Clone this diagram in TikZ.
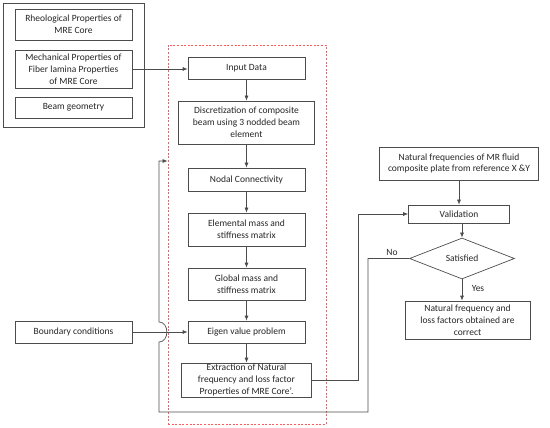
\documentclass[tikz,border=0pt]{standalone}
\usepackage{fontspec}
\setmainfont{Carlito}
\usetikzlibrary{arrows.meta,shapes.geometric}
\begin{document}
\begin{tikzpicture}[x=1pt,y=-1pt,
  box/.style={draw=black!70, line width=0.7pt, align=center, inner sep=0pt,
    font=\fontsize{9.5}{11.8}\selectfont, text=black!85},
  conn/.style={draw=black!70, line width=0.7pt},
  arr/.style={conn, -{Latex[length=5pt,width=4pt]}},
  lbl/.style={font=\fontsize{9.5}{11.8}\selectfont, text=black!85, inner sep=1pt}]
\useasboundingbox (0,0) rectangle (550,428);
% outer group box
\node[box, minimum width=141pt, minimum height=124pt] (outer) at (73.5,65) {};
\node[box, minimum width=117pt, minimum height=31pt] (rheo) at (73.5,24.5) {Rheological Properties of\\MRE Core};
\node[box, minimum width=117pt, minimum height=38pt] (mech) at (73.5,69) {Mechanical Properties of\\Fiber lamina Properties\\of MRE Core};
\node[box, minimum width=117pt, minimum height=21pt] (beam) at (73.5,107.5) {Beam geometry};
% red dashed frame
\node[draw=red!65, line width=0.8pt, dash pattern=on 2pt off 1.6pt, minimum width=158pt, minimum height=379pt, inner sep=0pt] (frame) at (247,234.5) {};
% main column
\node[box, minimum width=117pt, minimum height=22pt] (input) at (246.5,68) {Input Data};
\node[box, minimum width=136pt, minimum height=43pt] (disc) at (246.5,122.5) {Discretization of composite\\beam using 3 nodded beam\\element};
\node[box, minimum width=117pt, minimum height=23pt] (nodal) at (246.5,179.5) {Nodal Connectivity};
\node[box, minimum width=117pt, minimum height=33pt] (elem) at (246.5,229.5) {Elemental mass and\\stiffness matrix};
\node[box, minimum width=117pt, minimum height=32pt] (glob) at (246.5,284) {Global mass and\\stiffness matrix};
\node[box, minimum width=117pt, minimum height=22pt] (eigen) at (246.5,332) {Eigen value problem};
\node[box, minimum width=130pt, minimum height=34pt] (extr) at (246.5,380) {Extraction of Natural\\frequency and loss factor\\Properties of MRE Core'.};
% boundary
\node[box, minimum width=117pt, minimum height=22pt] (bc) at (73.5,332) {Boundary conditions};
% right column
\node[box, minimum width=159pt, minimum height=33pt] (natf) at (459,163.5) {Natural frequencies of MR fluid\\composite plate from reference X \&Y};
\node[box, minimum width=101pt, minimum height=18pt] (valid) at (459,214) {Validation};
\node[box, shape=diamond, minimum width=105pt, minimum height=41pt] (sat) at (462,258.5) {Satisfied};
\node[box, minimum width=125pt, minimum height=38pt] (res) at (467.5,320) {Natural frequency and\\loss factors obtained are\\correct};
% connectors
\draw[arr] (mech.east) -- (mech.east -| input.west);
\draw[arr] (input) -- (disc);
\draw[arr] (disc) -- (nodal);
\draw[arr] (nodal) -- (elem);
\draw[arr] (elem) -- (glob);
\draw[arr] (glob) -- (eigen);
\draw[arr] (eigen) -- (extr);
\draw[arr] (bc.east) -- (eigen.west);
\coordinate (e1) at (358,380);
\coordinate (e2) at (358,214);
\draw[arr] (extr.east) -- (e1) -- (e2) -- (valid.west);
\draw[arr] (natf.south -| valid.north) -- (valid.north);
\draw[arr] (sat.north |- valid.south) -- (sat.north);
\draw[arr] (sat.south) -- (sat.south |- res.north);
\coordinate (n1) at (368,258.5);
\coordinate (n2) at (368,412);
\coordinate (n3) at (159,412);
\coordinate (n4) at (159,342);
\coordinate (n5) at (159,322);
\coordinate (n6) at (159,161);
\coordinate (n7) at (frame.west |- n6);
\draw[arr] (sat.west) -- (n1) -- (n2) -- (n3) -- (n4) .. controls (169.5,342) and (169.5,322) .. (n5) -- (n6) -- (n7);
\node[lbl] (no) at (392,252) {No};
\node[lbl] (yes) at (478,288) {Yes};
\end{tikzpicture}
\end{document}
